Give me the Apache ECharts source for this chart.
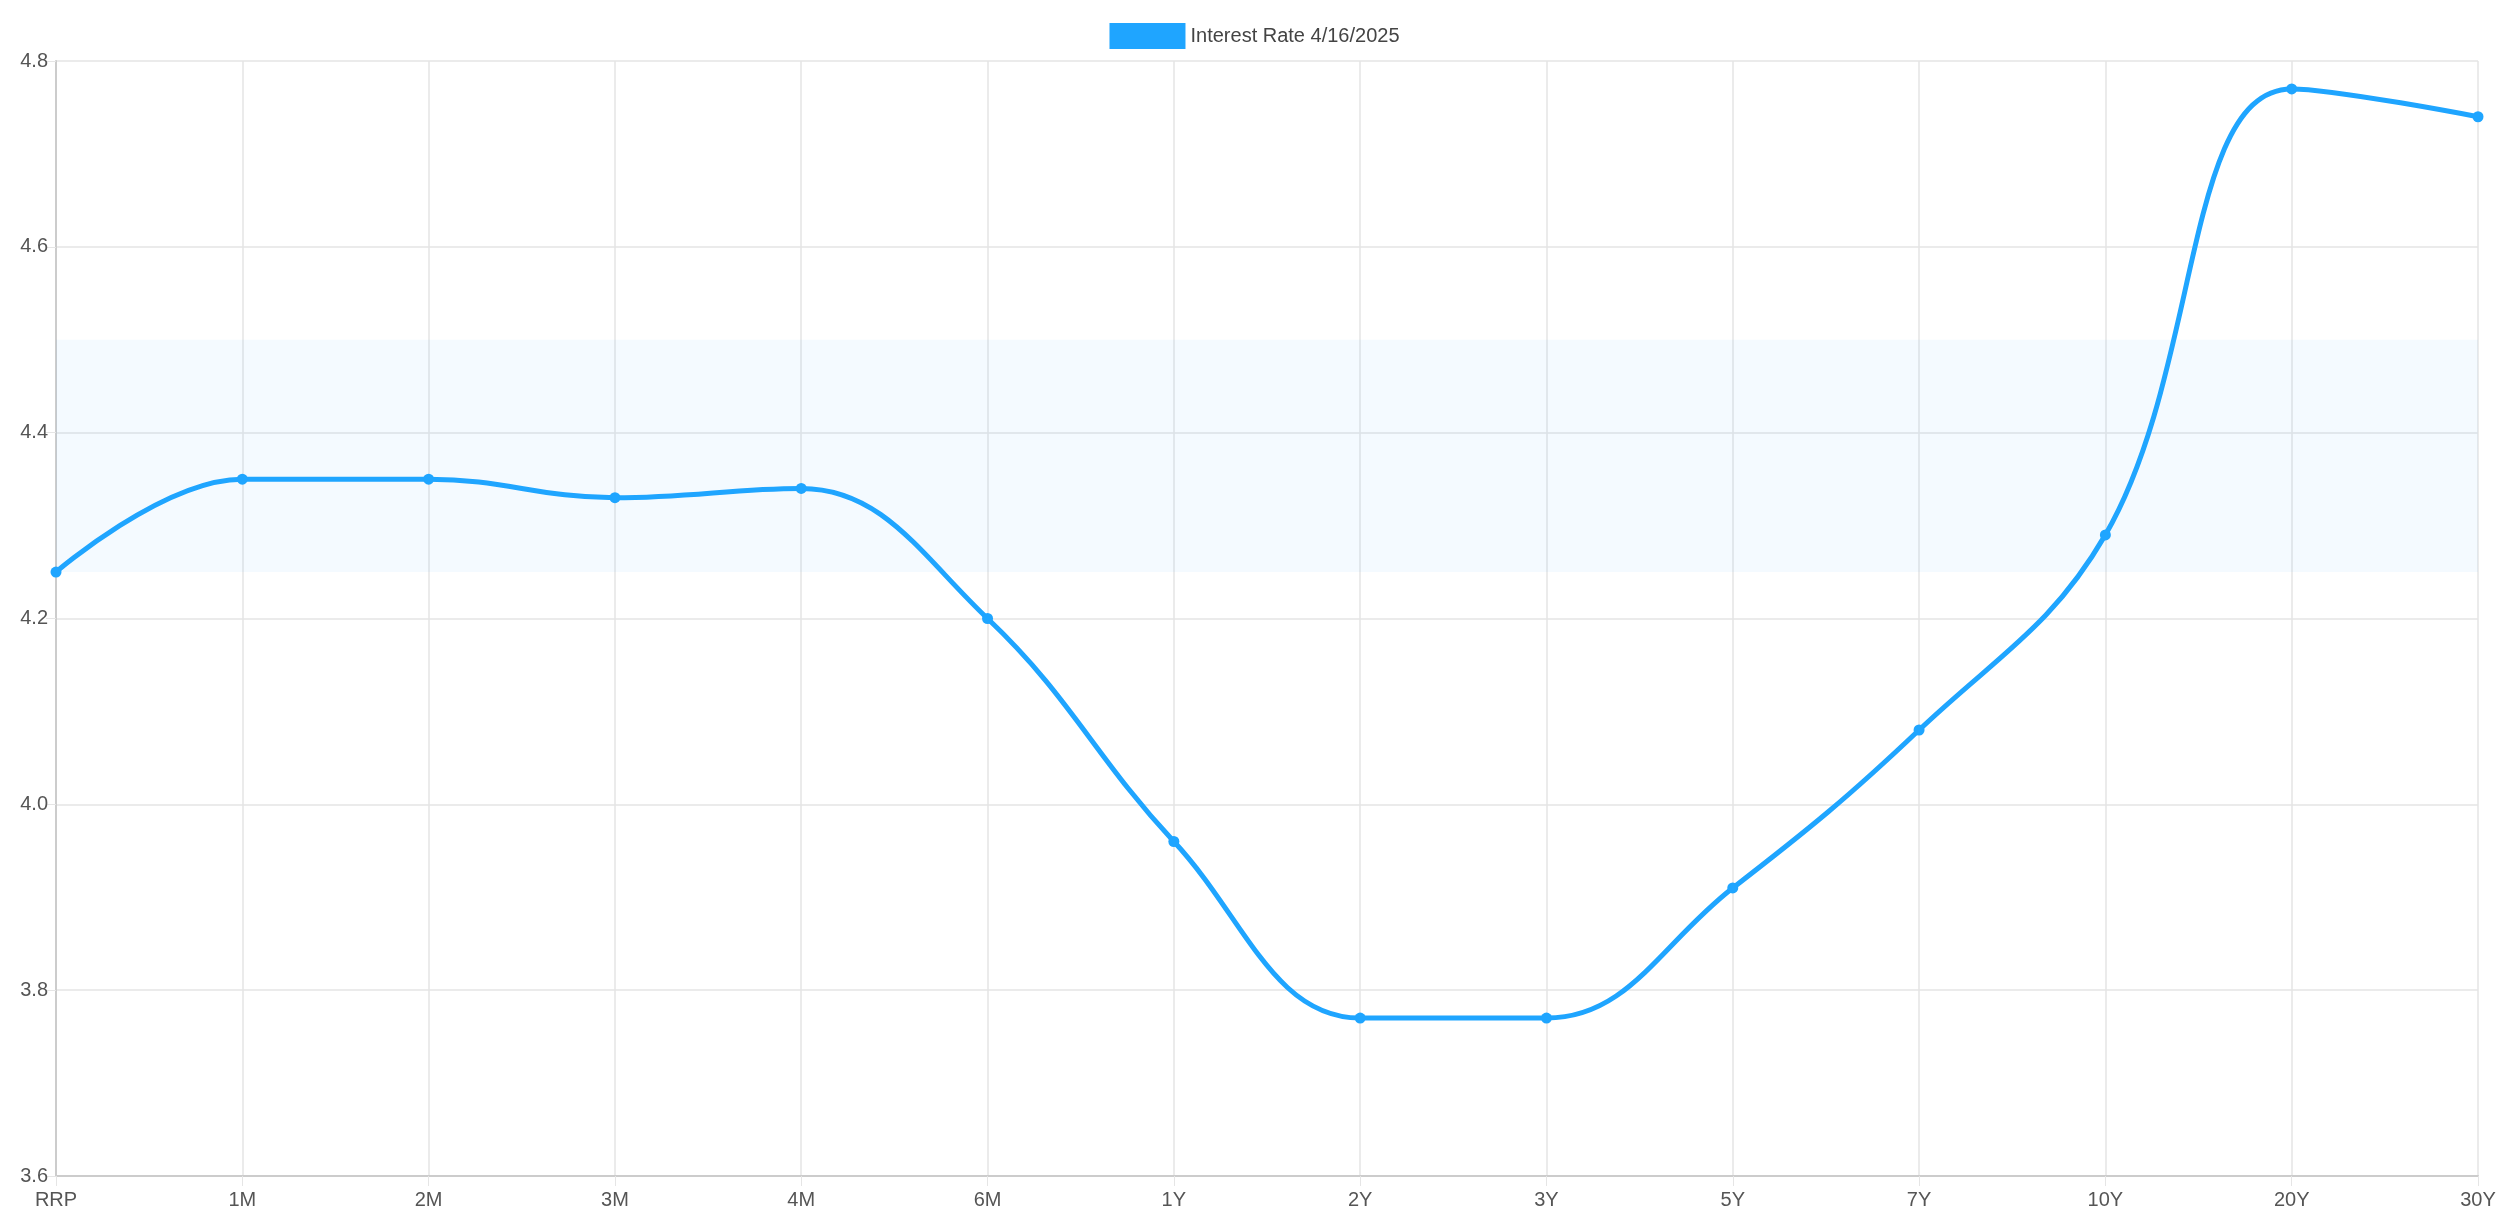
<!DOCTYPE html>
<html>
<head>
<meta charset="utf-8">
<script src="https://cdn.jsdelivr.net/npm/echarts@6/dist/echarts.min.js"></script>
<style>html,body{margin:0;padding:0;background:#fff}#chart{width:2509px;height:1229px}</style>
</head>
<body>
<div id="chart"></div>
<script>
var categories = ['RRP', '1M', '2M', '3M', '4M', '6M', '1Y', '2Y', '3Y', '5Y', '7Y', '10Y', '20Y', '30Y'];
var rates = [4.25, 4.35, 4.35, 4.33, 4.34, 4.20, 3.96, 3.77, 3.77, 3.91, 4.08, 4.29, 4.77, 4.74];
var fedBand = [4.25, 4.50];

var myChart = echarts.init(document.getElementById('chart'));
var option = {
  animation: false,
  textStyle: { fontFamily: 'Liberation Sans, Arial, sans-serif' },
  legend: {
    top: 18,
    left: 'center',
    itemWidth: 76,
    itemHeight: 26,
    icon: 'rect',
    textStyle: { fontSize: 20, color: '#444' },
    data: ['Interest Rate 4/16/2025']
  },
  grid: { left: 56, right: 31, top: 61, bottom: 53 },
  xAxis: {
    type: 'category',
    data: categories,
    boundaryGap: false,
    axisLine: { lineStyle: { color: '#ccc', width: 2 } },
    axisTick: { show: true, length: 10, lineStyle: { color: '#e5e5e5' } },
    axisLabel: { fontSize: 20, color: '#555', margin: 14 },
    splitLine: { show: true, lineStyle: { color: '#e5e5e5', width: 1.5 } }
  },
  yAxis: {
    type: 'value',
    min: 3.6,
    max: 4.8,
    interval: 0.2,
    axisLine: { show: true, lineStyle: { color: '#ccc', width: 2 } },
    axisTick: { show: true, length: 10, lineStyle: { color: '#e5e5e5' } },
    axisLabel: { fontSize: 20, color: '#555', formatter: function (v) { return v.toFixed(1); } },
    splitLine: { lineStyle: { color: '#e5e5e5', width: 1.5 } }
  },
  series: [{
    name: 'Interest Rate 4/16/2025',
    type: 'line',
    data: rates,
    smooth: 0.4,
    symbol: 'circle',
    symbolSize: 11,
    itemStyle: { color: '#1fa5ff' },
    lineStyle: { width: 5, color: '#1fa5ff' },
    markArea: {
      silent: true,
      itemStyle: { color: 'rgba(31,165,255,0.05)' },
      data: [[{ yAxis: fedBand[0] }, { yAxis: fedBand[1] }]]
    }
  }]
};
myChart.setOption(option);
</script>
</body>
</html>
